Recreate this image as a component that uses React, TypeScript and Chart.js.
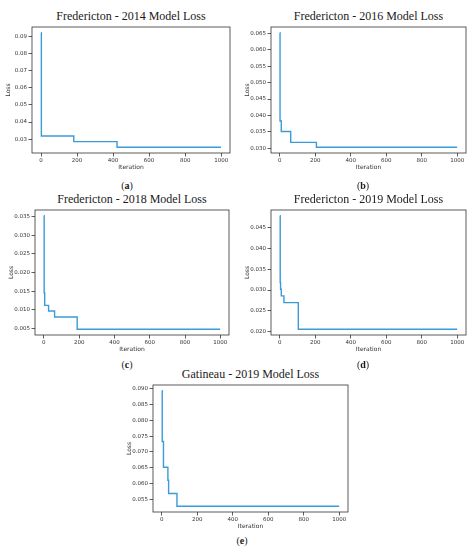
import { useEffect, useRef } from "react";
import { Chart, registerables } from "chart.js";

Chart.register(...registerables);

// shared x axis
const iterTicks = [0, 200, 400, 600, 800, 1000];
const lastIter = 999;

// (a) Fredericton - 2014
const iters2014 = [0, 2, 182, 422, 999];
const loss2014 = [0.0921, 0.0319, 0.0286, 0.0253, 0.0253];
const ticks2014 = [0.03, 0.04, 0.05, 0.06, 0.07, 0.08, 0.09];

// (b) Fredericton - 2016
const iters2016 = [0, 1, 8, 61, 206, 999];
const loss2016 = [0.0652, 0.0383, 0.0351, 0.0318, 0.0303, 0.0303];
const ticks2016 = [0.03, 0.035, 0.04, 0.045, 0.05, 0.055, 0.06, 0.065];

// (c) Fredericton - 2018
const iters2018 = [0, 2, 5, 27, 61, 189, 999];
const loss2018 = [0.0352, 0.0145, 0.0112, 0.0097, 0.0081, 0.0048, 0.0048];
const ticks2018 = [0.005, 0.01, 0.015, 0.02, 0.025, 0.03, 0.035];

// (d) Fredericton - 2019
const iters2019 = [0, 2, 4, 8, 23, 104, 999];
const loss2019 = [0.0478, 0.0318, 0.0302, 0.0286, 0.027, 0.0206, 0.0206];
const ticks2019 = [0.02, 0.025, 0.03, 0.035, 0.04, 0.045];

// (e) Gatineau - 2019
const itersGat = [0, 2, 9, 34, 38, 85, 999];
const lossGat = [0.0893, 0.0733, 0.0652, 0.0611, 0.0569, 0.0529, 0.0529];
const ticksGat = [0.055, 0.06, 0.065, 0.07, 0.075, 0.08, 0.085, 0.09];

const AXIS = "#333333";
const LINE = "#3a9bd9";
const TICK_FONT = { family: "'DejaVu Sans', sans-serif", size: 5.5 };

const Y_W = 32; // room for y labels
const X_H = 20; // room for x labels
const PAD_T = 6;
const PAD_R = 12;

// draws the full box around the plot, like matplotlib spines
const frame = {
  id: "frame",
  afterDraw(chart: Chart) {
    const { ctx, chartArea: a } = chart;
    ctx.save();
    ctx.strokeStyle = AXIS;
    ctx.lineWidth = 0.8;
    ctx.strokeRect(a.left, a.top, a.right - a.left, a.bottom - a.top);
    ctx.restore();
  },
};

interface Box {
  left: number;
  top: number;
  width: number;
  height: number;
}

interface PanelProps {
  title: string;
  iters: number[];
  loss: number[];
  yTicks: number[];
  decimals: number;
  box: Box;
}

const Panel = ({ title, iters, loss, yTicks, decimals, box }: PanelProps) => {
  const canvasRef = useRef<HTMLCanvasElement | null>(null);
  const w = Y_W + box.width + PAD_R;
  const h = PAD_T + box.height + X_H;

  useEffect(() => {
    if (!canvasRef.current) return;
    const lo = Math.min(...loss);
    const hi = Math.max(...loss);
    const span = hi - lo;
    const chart = new Chart(canvasRef.current, {
      type: "line",
      data: {
        datasets: [
          {
            data: iters.map((x, i) => ({ x, y: loss[i] })),
            // hold each value until the next iteration, then drop
            stepped: "before",
            borderColor: LINE,
            borderWidth: 1.4,
            pointRadius: 0,
            fill: false,
          },
        ],
      },
      options: {
        responsive: false,
        animation: false,
        layout: { padding: { left: 0, top: PAD_T, right: PAD_R, bottom: 0 } },
        plugins: { legend: { display: false }, tooltip: { enabled: false } },
        scales: {
          x: {
            type: "linear",
            min: -0.05 * lastIter,
            max: lastIter * 1.05,
            afterBuildTicks: (s: any) => {
              s.ticks = iterTicks.map((v) => ({ value: v }));
            },
            afterFit: (s: any) => {
              s.height = X_H;
              s.paddingLeft = 0;
              s.paddingRight = 0;
            },
            grid: {
              drawOnChartArea: false,
              tickLength: 3.5,
              tickColor: AXIS,
              tickWidth: 0.8,
            },
            border: { display: false },
            ticks: {
              font: TICK_FONT,
              color: AXIS,
              padding: 1,
              maxRotation: 0,
              callback: (v: any) => String(v),
            },
            title: {
              display: true,
              text: "Iteration",
              font: { family: "'DejaVu Sans', sans-serif", size: 6 },
              color: AXIS,
              padding: { top: 0, bottom: 1.5 },
            },
          },
          y: {
            type: "linear",
            min: lo - 0.05 * span,
            max: hi + 0.05 * span,
            afterBuildTicks: (s: any) => {
              s.ticks = yTicks.map((v) => ({ value: v }));
            },
            afterFit: (s: any) => {
              s.width = Y_W;
              s.paddingTop = 0;
              s.paddingBottom = 0;
            },
            grid: {
              drawOnChartArea: false,
              tickLength: 3.5,
              tickColor: AXIS,
              tickWidth: 0.8,
            },
            border: { display: false },
            ticks: {
              font: TICK_FONT,
              color: AXIS,
              padding: 1.5,
              callback: (v: any) => Number(v).toFixed(decimals),
            },
            title: {
              display: true,
              text: "Loss",
              font: { family: "'DejaVu Sans', sans-serif", size: 6 },
              color: AXIS,
              padding: { top: 4.5, bottom: 0 },
            },
          },
        },
      },
      plugins: [frame],
    });
    return () => chart.destroy();
  }, [iters, loss, yTicks, decimals]);

  return (
    <>
      <div
        style={{
          position: "absolute",
          left: box.left + box.width / 2,
          top: box.top - 18,
          transform: "translateX(-50%)",
          whiteSpace: "nowrap",
          font: "12px 'Liberation Serif', serif",
          lineHeight: "14px",
          color: "#1a1a1a",
        }}
      >
        {title}
      </div>
      <canvas
        ref={canvasRef}
        width={w}
        height={h}
        style={{
          position: "absolute",
          left: box.left - Y_W,
          top: box.top - PAD_T,
          width: w,
          height: h,
        }}
      />
    </>
  );
};

const Caption = ({ letter, x, y }: { letter: string; x: number; y: number }) => (
  <div
    style={{
      position: "absolute",
      left: x,
      top: y - 6,
      transform: "translateX(-50%)",
      font: "10px 'Liberation Serif', serif",
      lineHeight: "12px",
      color: "#1a1a1a",
    }}
  >
    (<b>{letter}</b>)
  </div>
);

const App = () => (
  <div
    style={{
      position: "absolute",
      left: 0,
      top: 0,
      width: 473,
      height: 550,
      background: "#fff",
      overflow: "hidden",
    }}
  >
    <Panel
      title="Fredericton - 2014 Model Loss"
      iters={iters2014}
      loss={loss2014}
      yTicks={ticks2014}
      decimals={2}
      box={{ left: 32, top: 27, width: 198, height: 126 }}
    />
    <Panel
      title="Fredericton - 2016 Model Loss"
      iters={iters2016}
      loss={loss2016}
      yTicks={ticks2016}
      decimals={3}
      box={{ left: 271, top: 27, width: 195, height: 126 }}
    />
    <Panel
      title="Fredericton - 2018 Model Loss"
      iters={iters2018}
      loss={loss2018}
      yTicks={ticks2018}
      decimals={3}
      box={{ left: 35, top: 210, width: 194, height: 125 }}
    />
    <Panel
      title="Fredericton - 2019 Model Loss"
      iters={iters2019}
      loss={loss2019}
      yTicks={ticks2019}
      decimals={3}
      box={{ left: 271, top: 210, width: 195, height: 125 }}
    />
    <Panel
      title="Gatineau - 2019 Model Loss"
      iters={itersGat}
      loss={lossGat}
      yTicks={ticksGat}
      decimals={3}
      box={{ left: 153, top: 385, width: 195, height: 127 }}
    />
    <Caption letter="a" x={127} y={186} />
    <Caption letter="b" x={363} y={186} />
    <Caption letter="c" x={127} y={365} />
    <Caption letter="d" x={363} y={365} />
    <Caption letter="e" x={242} y={541} />
  </div>
);

export default App;
